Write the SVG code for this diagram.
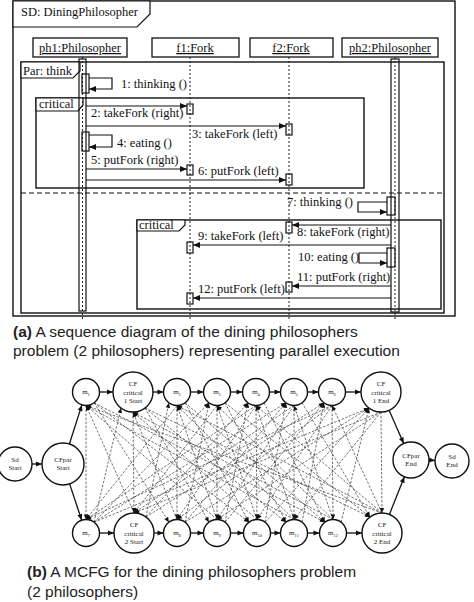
<svg xmlns="http://www.w3.org/2000/svg" width="474" height="602" viewBox="0 0 474 602">
<style>
.fr{fill:none;stroke:#111;stroke-width:1.4}
.tab{fill:#fff;stroke:#111;stroke-width:1.2}
.hd{fill:#fff;stroke:#111;stroke-width:1.3}
.ll{stroke:#222;stroke-width:1;stroke-dasharray:2,2}
.act{fill:none;stroke:#111;stroke-width:1.2}
.msg{fill:none;stroke:#111;stroke-width:1.2;marker-end:url(#ah)}
.st{font-family:"Liberation Serif",serif;font-size:12.5px;fill:#111}
.ul{text-decoration:underline}
.cap{font-family:"Liberation Sans",Arial,sans-serif;font-size:15.5px;fill:#222}
.nd{fill:#fff;stroke:#111;stroke-width:1.4}
.nt{font-family:"Liberation Serif",serif;font-size:7px;fill:#222;text-anchor:middle}
.sol{stroke:#111;stroke-width:1.3;marker-end:url(#sa)}
.dl line{stroke:#444;stroke-width:0.75;stroke-dasharray:2.5,1.5;fill:none;marker-end:url(#da)}
</style>
<defs>
<marker id="ah" markerUnits="userSpaceOnUse" markerWidth="8" markerHeight="8" refX="7" refY="3" orient="auto" overflow="visible"><path d="M0,0 L7,3 L0,6 z" fill="#111"/></marker>
<marker id="sa" markerUnits="userSpaceOnUse" markerWidth="8" markerHeight="8" refX="6" refY="2.5" orient="auto" overflow="visible"><path d="M0,0 L6,2.5 L0,5 z" fill="#111"/></marker>
<marker id="da" markerUnits="userSpaceOnUse" markerWidth="6" markerHeight="6" refX="0" refY="0" orient="auto" overflow="visible"><path d="M0,0 L-5,-2.2 L-5,2.2 z" fill="#111"/></marker>
</defs>
<rect width="474" height="602" fill="#fff"/>

<!-- (a) sequence diagram -->
<g id="sd-frame">
<rect class="fr" x="13" y="1" width="442" height="315"/>
<path class="tab" d="M13,1 H150 V14 L137,27 H13 Z"/>
<text class="st" x="21" y="16">SD: DiningPhilosopher</text>
</g>
<g id="par-frame">
<rect class="fr" x="21" y="62" width="423" height="251"/>
<path class="tab" d="M21,62 H80 V71 L73,78 H21 Z"/>
<text class="st" x="23" y="75">Par: think</text>
<line x1="21" y1="193" x2="444" y2="193" stroke="#111" stroke-width="1.1" stroke-dasharray="5,3"/>
</g>
<g id="critical-1">
<rect class="fr" x="36" y="98" width="328" height="90"/>
<path class="tab" d="M36,98 H83 V105 L78,111 H36 Z"/>
<text class="st" x="39" y="108">critical</text>
</g>
<g id="critical-2">
<rect class="fr" x="137" y="220" width="304" height="89"/>
<path class="tab" d="M137,220 H185 V225 L179,231 H137 Z"/>
<text class="st" x="139" y="229">critical</text>
</g>

<g id="ph1">
<rect class="hd" x="33" y="38" width="94" height="19"/>
<text class="st ul" x="80" y="52" text-anchor="middle">ph1:Philosopher</text>
<line class="ll" x1="82.5" y1="57" x2="82.5" y2="320"/>
<rect class="act" x="79" y="59" width="7" height="252"/>
</g>
<g id="f1">
<rect class="hd" x="152" y="38" width="87" height="19"/>
<text class="st ul" x="195" y="52" text-anchor="middle">f1:Fork</text>
<line class="ll" x1="190" y1="57" x2="190" y2="320"/>
</g>
<g id="f2">
<rect class="hd" x="250" y="38" width="83" height="19"/>
<text class="st ul" x="291" y="52" text-anchor="middle">f2:Fork</text>
<line class="ll" x1="289" y1="57" x2="289" y2="320"/>
</g>
<g id="ph2">
<rect class="hd" x="342" y="38" width="96" height="19"/>
<text class="st ul" x="390" y="52" text-anchor="middle">ph2:Philosopher</text>
<line class="ll" x1="395" y1="57" x2="395" y2="320"/>
<rect class="act" x="391" y="59" width="8" height="253"/>
</g>

<g id="activations">
<rect class="act" x="82" y="74" width="7" height="19"/>
<rect class="act" x="82" y="132" width="7" height="19"/>
<rect class="act" x="387" y="197" width="8" height="18"/>
<rect class="act" x="387" y="248" width="8" height="19"/>
<rect class="act" x="187" y="104" width="6" height="10"/>
<rect class="act" x="286" y="124" width="6" height="11"/>
<rect class="act" x="187" y="165" width="6" height="10"/>
<rect class="act" x="286" y="174" width="6" height="11"/>
<rect class="act" x="286" y="222" width="6" height="11"/>
<rect class="act" x="187" y="242" width="6" height="11"/>
<rect class="act" x="286" y="282" width="6" height="10"/>
<rect class="act" x="187" y="293" width="6" height="11"/>
</g>

<g id="messages">
<path class="msg" d="M89,78 H112 V89 H89"/>
<path class="msg" d="M86,106 H187"/>
<path class="msg" d="M86,126 H286"/>
<path class="msg" d="M89,135 H112 V147 H89"/>
<path class="msg" d="M86,169 H187"/>
<path class="msg" d="M86,180 H286"/>
<path class="msg" d="M387,202 H358 V212 H387"/>
<path class="msg" d="M391,225 H292"/>
<path class="msg" d="M391,245 H193"/>
<path class="msg" d="M387,253 H359 V263 H387"/>
<path class="msg" d="M391,286 H292"/>
<path class="msg" d="M391,298 H193"/>
</g>
<g id="message-labels">
<text class="st" x="121" y="88">1: thinking ()</text>
<text class="st" x="91" y="117">2: takeFork (right)</text>
<text class="st" x="192" y="138">3: takeFork (left)</text>
<text class="st" x="117" y="147">4: eating ()</text>
<text class="st" x="91" y="164">5: putFork (right)</text>
<text class="st" x="198" y="175">6: putFork (left)</text>
<text class="st" x="287" y="206">7: thinking ()</text>
<text class="st" x="297" y="236">8: takeFork (right)</text>
<text class="st" x="198" y="240">9: takeFork (left)</text>
<text class="st" x="298" y="261">10: eating ()</text>
<text class="st" x="297" y="281">11: putFork (right)</text>
<text class="st" x="198" y="293">12: putFork (left)</text>
</g>

<g id="caption-a">
<text class="cap" x="13" y="337"><tspan font-weight="bold">(a)</tspan> A sequence diagram of the dining philosophers</text>
<text class="cap" x="13" y="356">problem (2 philosophers) representing parallel execution</text>
</g>

<!-- (b) MCFG -->
<g id="connectors">
<g class="dl">
<line x1="86" y1="405.5" x2="86" y2="519.5"/>
<line x1="134" y1="513" x2="86" y2="405.5"/>
<line x1="94.1" y1="402.8" x2="168.9" y2="522.2"/>
<line x1="217" y1="519.5" x2="86" y2="405.5"/>
<line x1="94.1" y1="402.8" x2="248.9" y2="522.2"/>
<line x1="294" y1="519.5" x2="86" y2="405.5"/>
<line x1="94.1" y1="402.8" x2="324.9" y2="522.2"/>
<line x1="382" y1="513" x2="86" y2="405.5"/>

<line x1="94.1" y1="522.2" x2="121" y2="408"/>
<line x1="133" y1="412" x2="134" y2="513"/>
<line x1="177" y1="519.5" x2="133" y2="412"/>
<line x1="145" y1="408" x2="208.9" y2="522.2"/>
<line x1="257" y1="519.5" x2="133" y2="412"/>
<line x1="145" y1="408" x2="285.9" y2="522.2"/>
<line x1="333" y1="519.5" x2="133" y2="412"/>
<line x1="145" y1="408" x2="370" y2="517"/>

<line x1="177" y1="405.5" x2="86" y2="519.5"/>
<line x1="146" y1="517" x2="168.9" y2="402.8"/>
<line x1="177" y1="405.5" x2="177" y2="519.5"/>
<line x1="217" y1="519.5" x2="177" y2="405.5"/>
<line x1="185.1" y1="402.8" x2="248.9" y2="522.2"/>
<line x1="294" y1="519.5" x2="177" y2="405.5"/>
<line x1="185.1" y1="402.8" x2="324.9" y2="522.2"/>
<line x1="382" y1="513" x2="177" y2="405.5"/>

<line x1="94.1" y1="522.2" x2="208.9" y2="402.8"/>
<line x1="217" y1="405.5" x2="134" y2="513"/>
<line x1="185.1" y1="522.2" x2="208.9" y2="402.8"/>
<line x1="217" y1="405.5" x2="217" y2="519.5"/>
<line x1="257" y1="519.5" x2="217" y2="405.5"/>
<line x1="225.1" y1="402.8" x2="285.9" y2="522.2"/>
<line x1="333" y1="519.5" x2="217" y2="405.5"/>
<line x1="225.1" y1="402.8" x2="370" y2="517"/>

<line x1="256" y1="405.5" x2="86" y2="519.5"/>
<line x1="146" y1="517" x2="247.9" y2="402.8"/>
<line x1="256" y1="405.5" x2="177" y2="519.5"/>
<line x1="225.1" y1="522.2" x2="247.9" y2="402.8"/>
<line x1="256" y1="405.5" x2="257" y2="519.5"/>
<line x1="294" y1="519.5" x2="256" y2="405.5"/>
<line x1="264.1" y1="402.8" x2="324.9" y2="522.2"/>
<line x1="382" y1="513" x2="256" y2="405.5"/>

<line x1="94.1" y1="522.2" x2="285.9" y2="402.8"/>
<line x1="294" y1="405.5" x2="134" y2="513"/>
<line x1="185.1" y1="522.2" x2="285.9" y2="402.8"/>
<line x1="294" y1="405.5" x2="217" y2="519.5"/>
<line x1="265.1" y1="522.2" x2="285.9" y2="402.8"/>
<line x1="294" y1="405.5" x2="294" y2="519.5"/>
<line x1="333" y1="519.5" x2="294" y2="405.5"/>
<line x1="302.1" y1="402.8" x2="370" y2="517"/>

<line x1="332" y1="405.5" x2="86" y2="519.5"/>
<line x1="146" y1="517" x2="323.9" y2="402.8"/>
<line x1="332" y1="405.5" x2="177" y2="519.5"/>
<line x1="225.1" y1="522.2" x2="323.9" y2="402.8"/>
<line x1="332" y1="405.5" x2="257" y2="519.5"/>
<line x1="302.1" y1="522.2" x2="323.9" y2="402.8"/>
<line x1="332" y1="405.5" x2="333" y2="519.5"/>
<line x1="382" y1="513" x2="332" y2="405.5"/>

<line x1="94.1" y1="522.2" x2="369" y2="408"/>
<line x1="381" y1="412" x2="134" y2="513"/>
<line x1="185.1" y1="522.2" x2="369" y2="408"/>
<line x1="381" y1="412" x2="217" y2="519.5"/>
<line x1="265.1" y1="522.2" x2="369" y2="408"/>
<line x1="381" y1="412" x2="294" y2="519.5"/>
<line x1="341.1" y1="522.2" x2="369" y2="408"/>
<line x1="381" y1="412" x2="382" y2="513"/>
</g>
<line class="sol" x1="32" y1="464" x2="42" y2="464"/>
<line class="sol" x1="69.4" y1="444" x2="81.9" y2="404.9"/>
<line class="sol" x1="69.6" y1="483.9" x2="81.7" y2="520.2"/>
<line class="sol" x1="99.5" y1="392" x2="113" y2="392"/>
<line class="sol" x1="153" y1="392" x2="163.5" y2="392"/>
<line class="sol" x1="190.5" y1="392" x2="203.5" y2="392"/>
<line class="sol" x1="230.5" y1="392" x2="242.5" y2="392"/>
<line class="sol" x1="269.5" y1="392" x2="280.5" y2="392"/>
<line class="sol" x1="307.5" y1="392" x2="318.5" y2="392"/>
<line class="sol" x1="345.5" y1="392" x2="361" y2="392"/>
<line class="sol" x1="99.5" y1="533" x2="114" y2="533"/>
<line class="sol" x1="154" y1="533" x2="163.5" y2="533"/>
<line class="sol" x1="190.5" y1="533" x2="203.5" y2="533"/>
<line class="sol" x1="230.5" y1="533" x2="243.5" y2="533"/>
<line class="sol" x1="270.5" y1="533" x2="280.5" y2="533"/>
<line class="sol" x1="307.5" y1="533" x2="319.5" y2="533"/>
<line class="sol" x1="346.5" y1="533" x2="362" y2="533"/>
<line class="sol" x1="389.1" y1="410.3" x2="403.7" y2="443.5"/>
<line class="sol" x1="389.4" y1="514.4" x2="404.4" y2="476.7"/>
<line class="sol" x1="429" y1="460" x2="435" y2="460.5"/>
</g>

<g id="sd-start"><circle class="nd" cx="15" cy="464" r="17"/><text class="nt" x="15" y="462">Sd</text><text class="nt" x="15" y="470">Start</text></g>
<g id="cfpar-start"><circle class="nd" cx="63" cy="464" r="21"/><text class="nt" x="63" y="462">CFpar</text><text class="nt" x="63" y="470">Start</text></g>
<g id="m1"><circle class="nd" cx="86" cy="392" r="13.5"/><text class="nt" x="86" y="394">m<tspan font-size="4.5" dy="1.5">1</tspan></text></g>
<g id="cf-critical-1-start"><circle class="nd" cx="133" cy="392" r="20"/><text class="nt" x="133" y="386">CF</text><text class="nt" x="133" y="394.5">critical</text><text class="nt" x="133" y="403">1 Start</text></g>
<g id="m2"><circle class="nd" cx="177" cy="392" r="13.5"/><text class="nt" x="177" y="394">m<tspan font-size="4.5" dy="1.5">2</tspan></text></g>
<g id="m3"><circle class="nd" cx="217" cy="392" r="13.5"/><text class="nt" x="217" y="394">m<tspan font-size="4.5" dy="1.5">3</tspan></text></g>
<g id="m4"><circle class="nd" cx="256" cy="392" r="13.5"/><text class="nt" x="256" y="394">m<tspan font-size="4.5" dy="1.5">4</tspan></text></g>
<g id="m5"><circle class="nd" cx="294" cy="392" r="13.5"/><text class="nt" x="294" y="394">m<tspan font-size="4.5" dy="1.5">5</tspan></text></g>
<g id="m6"><circle class="nd" cx="332" cy="392" r="13.5"/><text class="nt" x="332" y="394">m<tspan font-size="4.5" dy="1.5">6</tspan></text></g>
<g id="cf-critical-1-end"><circle class="nd" cx="381" cy="392" r="20"/><text class="nt" x="381" y="386">CF</text><text class="nt" x="381" y="394.5">critical</text><text class="nt" x="381" y="403">1 End</text></g>
<g id="m7"><circle class="nd" cx="86" cy="533" r="13.5"/><text class="nt" x="86" y="535">m<tspan font-size="4.5" dy="1.5">7</tspan></text></g>
<g id="cf-critical-2-start"><circle class="nd" cx="134" cy="533" r="20"/><text class="nt" x="134" y="527">CF</text><text class="nt" x="134" y="535.5">critical</text><text class="nt" x="134" y="544">2 Start</text></g>
<g id="m8"><circle class="nd" cx="177" cy="533" r="13.5"/><text class="nt" x="177" y="535">m<tspan font-size="4.5" dy="1.5">8</tspan></text></g>
<g id="m9"><circle class="nd" cx="217" cy="533" r="13.5"/><text class="nt" x="217" y="535">m<tspan font-size="4.5" dy="1.5">9</tspan></text></g>
<g id="m10"><circle class="nd" cx="257" cy="533" r="13.5"/><text class="nt" x="257" y="535">m<tspan font-size="4.5" dy="1.5">10</tspan></text></g>
<g id="m11"><circle class="nd" cx="294" cy="533" r="13.5"/><text class="nt" x="294" y="535">m<tspan font-size="4.5" dy="1.5">11</tspan></text></g>
<g id="m12"><circle class="nd" cx="333" cy="533" r="13.5"/><text class="nt" x="333" y="535">m<tspan font-size="4.5" dy="1.5">12</tspan></text></g>
<g id="cf-critical-2-end"><circle class="nd" cx="382" cy="533" r="20"/><text class="nt" x="382" y="527">CF</text><text class="nt" x="382" y="535.5">critical</text><text class="nt" x="382" y="544">2 End</text></g>
<g id="cfpar-end"><circle class="nd" cx="411" cy="460" r="18"/><text class="nt" x="411" y="458">CFpar</text><text class="nt" x="411" y="466">End</text></g>
<g id="sd-end"><circle class="nd" cx="452" cy="461" r="17"/><text class="nt" x="452" y="459">Sd</text><text class="nt" x="452" y="467">End</text></g>

<g id="caption-b">
<text class="cap" x="27" y="577"><tspan font-weight="bold">(b)</tspan> A MCFG for the dining philosophers problem</text>
<text class="cap" x="27" y="597">(2 philosophers)</text>
</g>
</svg>
